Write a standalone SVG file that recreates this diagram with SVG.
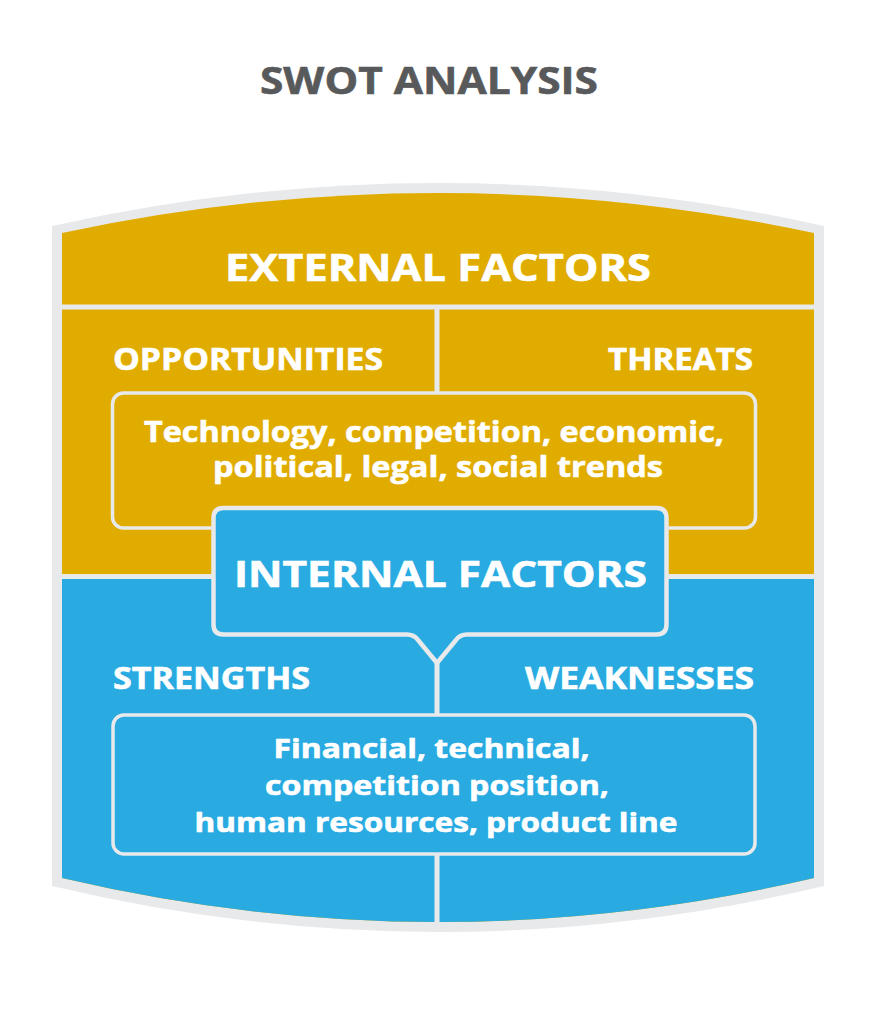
<svg xmlns="http://www.w3.org/2000/svg" width="869" height="1024" viewBox="0 0 869 1024">
  <style>
    .t { font-family: "Open Sans", "Liberation Sans", sans-serif; font-weight: 700; fill: #ffffff; stroke: #ffffff; stroke-width: 0.6px; }
    .title { fill: #58595b; stroke: #58595b; font-size: 38px; }
    .h1 { font-size: 38px; }
    .h2 { font-size: 36px; }
    .lab { font-size: 30px; }
    .body { font-size: 28px; }
    .body2 { font-size: 27px; }
    .line { fill: #e8e9eb; }
    .box { fill: none; stroke: #e8e9eb; stroke-width: 3.5; }
  </style>
  <defs>
    <clipPath id="innerClip">
      <path d="M62,233 Q438,153 814,233 L814,878 Q438,966 62,878 Z"/>
    </clipPath>
  </defs>
  <rect width="869" height="1024" fill="#ffffff"/>

  <g id="title">
    <text class="t title" x="260" y="93.5" textLength="338" lengthAdjust="spacingAndGlyphs">SWOT ANALYSIS</text>
  </g>

  <g id="frame">
    <path d="M52,226 Q438,140 824,226 L824,886 Q438,978 52,886 Z" fill="#e8e9eb"/>
    <path d="M62,233 Q438,153 814,233 L814,878 Q438,966 62,878 Z" fill="#e1ac00"/>
    <rect x="40" y="576.5" width="800" height="420" fill="#29abe2" clip-path="url(#innerClip)"/>
    <rect class="line" x="62" y="304.5" width="752" height="5"/>
    <rect class="line" x="62" y="574" width="752" height="5"/>
  </g>

  <g id="connectors">
    <rect class="line" x="434.5" y="309" width="5" height="85"/>
    <rect class="line" x="434.5" y="660" width="5" height="56"/>
    <rect class="line" x="434.5" y="853" width="5" height="120" clip-path="url(#innerClip)"/>
  </g>

  <g id="external-factors">
    <text class="t h1" x="225" y="280.5" textLength="426" lengthAdjust="spacingAndGlyphs">EXTERNAL FACTORS</text>
  </g>

  <g id="opportunities">
    <text class="t lab" x="113" y="370" textLength="270" lengthAdjust="spacingAndGlyphs">OPPORTUNITIES</text>
  </g>

  <g id="threats">
    <text class="t lab" x="608" y="370" textLength="145" lengthAdjust="spacingAndGlyphs">THREATS</text>
  </g>

  <g id="external-box">
    <rect class="box" x="112.5" y="393" width="643" height="135" rx="11"/>
    <text class="t body" x="144" y="442" textLength="580" lengthAdjust="spacingAndGlyphs">Technology, competition, economic,</text>
    <text class="t body" x="213" y="477" textLength="450" lengthAdjust="spacingAndGlyphs">political, legal, social trends</text>
  </g>

  <g id="internal-factors">
    <path d="M223.5,508 H656.5 Q666.5,508 666.5,518 V624.5 Q666.5,634.5 656.5,634.5 H467 Q460,634.5 456,640 L437,663 L418,640 Q414,634.5 407,634.5 H223.5 Q213.5,634.5 213.5,624.5 V518 Q213.5,508 223.5,508 Z" fill="#29abe2" stroke="#e8e9eb" stroke-width="4.5" stroke-linejoin="round"/>
    <text class="t h2" x="234" y="587" textLength="413" lengthAdjust="spacingAndGlyphs">INTERNAL FACTORS</text>
  </g>

  <g id="strengths">
    <text class="t lab" x="113" y="689" textLength="197" lengthAdjust="spacingAndGlyphs">STRENGTHS</text>
  </g>

  <g id="weaknesses">
    <text class="t lab" x="525" y="689" textLength="229" lengthAdjust="spacingAndGlyphs">WEAKNESSES</text>
  </g>

  <g id="internal-box">
    <rect class="box" x="113" y="715" width="642" height="139" rx="11"/>
    <text class="t body2" x="273.5" y="758" textLength="316" lengthAdjust="spacingAndGlyphs">Financial, technical,</text>
    <text class="t body2" x="265" y="795" textLength="344" lengthAdjust="spacingAndGlyphs">competition position,</text>
    <text class="t body2" x="194.5" y="832" textLength="483" lengthAdjust="spacingAndGlyphs">human resources, product line</text>
  </g>
</svg>
